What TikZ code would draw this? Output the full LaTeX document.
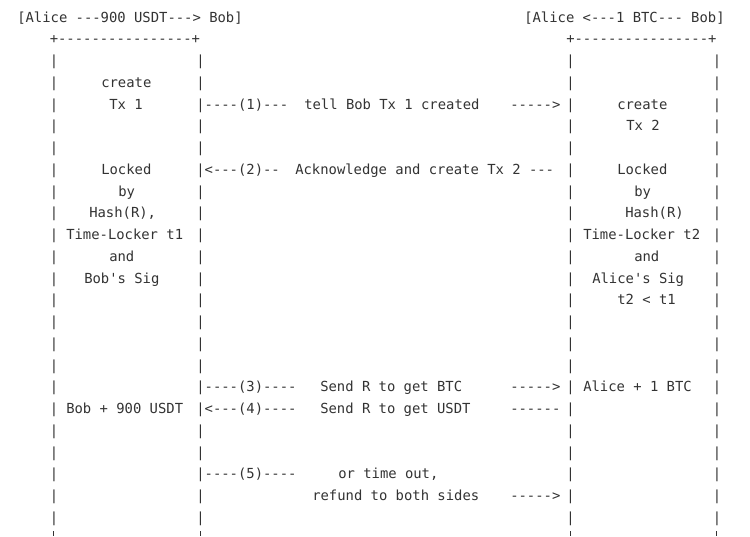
\documentclass[tikz,border=0pt]{standalone}
\usepackage{fontspec}
\newfontfamily\mono{DejaVu Sans Mono}
\definecolor{ink}{HTML}{333333}
\newcounter{tn}
\newcommand{\T}[3]{\stepcounter{tn}\node[txt] (t\arabic{tn}) at (#1,{22+#2*21.75}) {#3};}
\begin{document}
\begin{tikzpicture}[x=0.75pt,y=-0.75pt,
  txt/.style={anchor=base west,inner sep=0pt,text=ink,font=\mono\fontsize{10.4pt}{12pt}\selectfont}]
\useasboundingbox[fill=white] (0,0) rectangle (750,536);
\T{17}{0}{[Alice ---900 USDT---> Bob]}
\T{524}{0}{[Alice <---1 BTC--- Bob]}
\T{49.5}{1}{+----------------+}
\T{566}{1}{+----------------+}
\foreach \r in {2,...,23}{
  \T{49.5}{\r}{|}\T{196}{\r}{|}\T{566}{\r}{|}\T{712.5}{\r}{|}
}
\foreach \x in {53.6,200.1,570.1,716.6}{
  \draw[ink,line width=0.8pt] (\x,531) -- (\x,536);
}
% left box
\T{101}{3}{create}
\T{109}{4}{Tx 1}
\T{101}{7}{Locked}
\T{118}{8}{by}
\T{89}{9}{Hash(R),}
\T{66}{10}{Time-Locker t1}
\T{109}{11}{and}
\T{84}{12}{Bob's Sig}
\T{66}{18}{Bob + 900 USDT}
% right box
\T{617}{4}{create}
\T{626}{5}{Tx 2}
\T{617}{7}{Locked}
\T{634}{8}{by}
\T{625}{9}{Hash(R)}
\T{583}{10}{Time-Locker t2}
\T{634}{11}{and}
\T{592}{12}{Alice's Sig}
\T{617}{13}{t2 < t1}
\T{583}{17}{Alice + 1 BTC}
% messages
\T{204.4}{4}{----(1)---}
\T{304}{4}{tell Bob Tx 1 created}
\T{510}{4}{----->}
\T{204.4}{7}{<---(2)--}
\T{295}{7}{Acknowledge and create Tx 2 ---}
\T{204.4}{17}{----(3)----}
\T{320}{17}{Send R to get BTC}
\T{510}{17}{----->}
\T{204.4}{18}{<---(4)----}
\T{320}{18}{Send R to get USDT}
\T{510}{18}{------}
\T{204.4}{21}{----(5)----}
\T{338}{21}{or time out,}
\T{312}{22}{refund to both sides}
\T{510}{22}{----->}
\end{tikzpicture}
\end{document}
